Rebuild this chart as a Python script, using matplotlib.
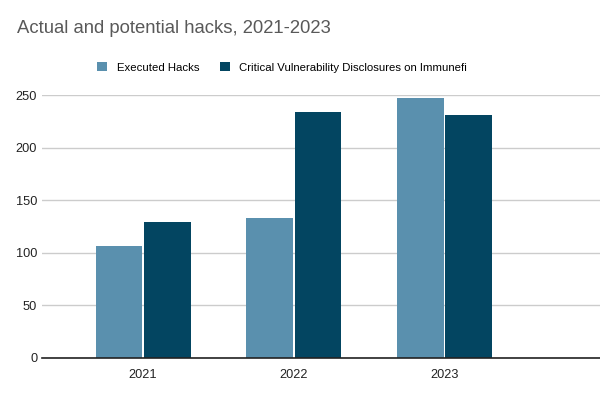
""" Grouped bars of executed hacks vs critical disclosures
"""
import matplotlib
matplotlib.use('Agg')
import matplotlib.pyplot as plt
import numpy as np

years = ['2021', '2022', '2023']
executed_hacks = [106, 133, 247]
critical_disclosures = [129, 234, 231]

plt.rcParams['font.family'] = ['Liberation Sans', 'DejaVu Sans']

fig = plt.figure(figsize=(6, 4), dpi=100)
ax = fig.add_axes([0.07, 0.105, 0.93, 0.6575])

x = np.arange(len(years))
w = 0.31
ax.bar(x - w / 2 - 0.005, executed_hacks, w, color='#5a90ae', label='Executed Hacks', zorder=3)
ax.bar(x + w / 2 + 0.005, critical_disclosures, w, color='#034561',
       label='Critical Vulnerability Disclosures on Immunefi', zorder=3)

ax.set_xlim(-0.67, 3.03)
ax.set_ylim(0, 250)
ax.set_yticks([0, 50, 100, 150, 200, 250])
ax.set_xticks(x)
ax.set_xticklabels(years)
ax.tick_params(length=0, labelsize=9.2, colors='#222222')
ax.tick_params(axis='x', pad=8)
ax.grid(axis='y', color='#cccccc', linewidth=1, zorder=0)
for s in ['top', 'right', 'left']:
    ax.spines[s].set_visible(False)
ax.spines['bottom'].set_color('#222222')
ax.spines['bottom'].set_linewidth(1.2)
ax.spines['bottom'].set_zorder(4)

fig.text(0.028, 0.918, 'Actual and potential hacks, 2021-2023', fontsize=13.3, color='#595959')
fig.legend(loc='center', bbox_to_anchor=(0.47, 0.832), ncol=2, frameon=False,
           fontsize=8.2, handlelength=0.9, handleheight=0.9, handletextpad=0.8,
           columnspacing=1.8)

plt.savefig('out.png', dpi=100)
plt.close()
